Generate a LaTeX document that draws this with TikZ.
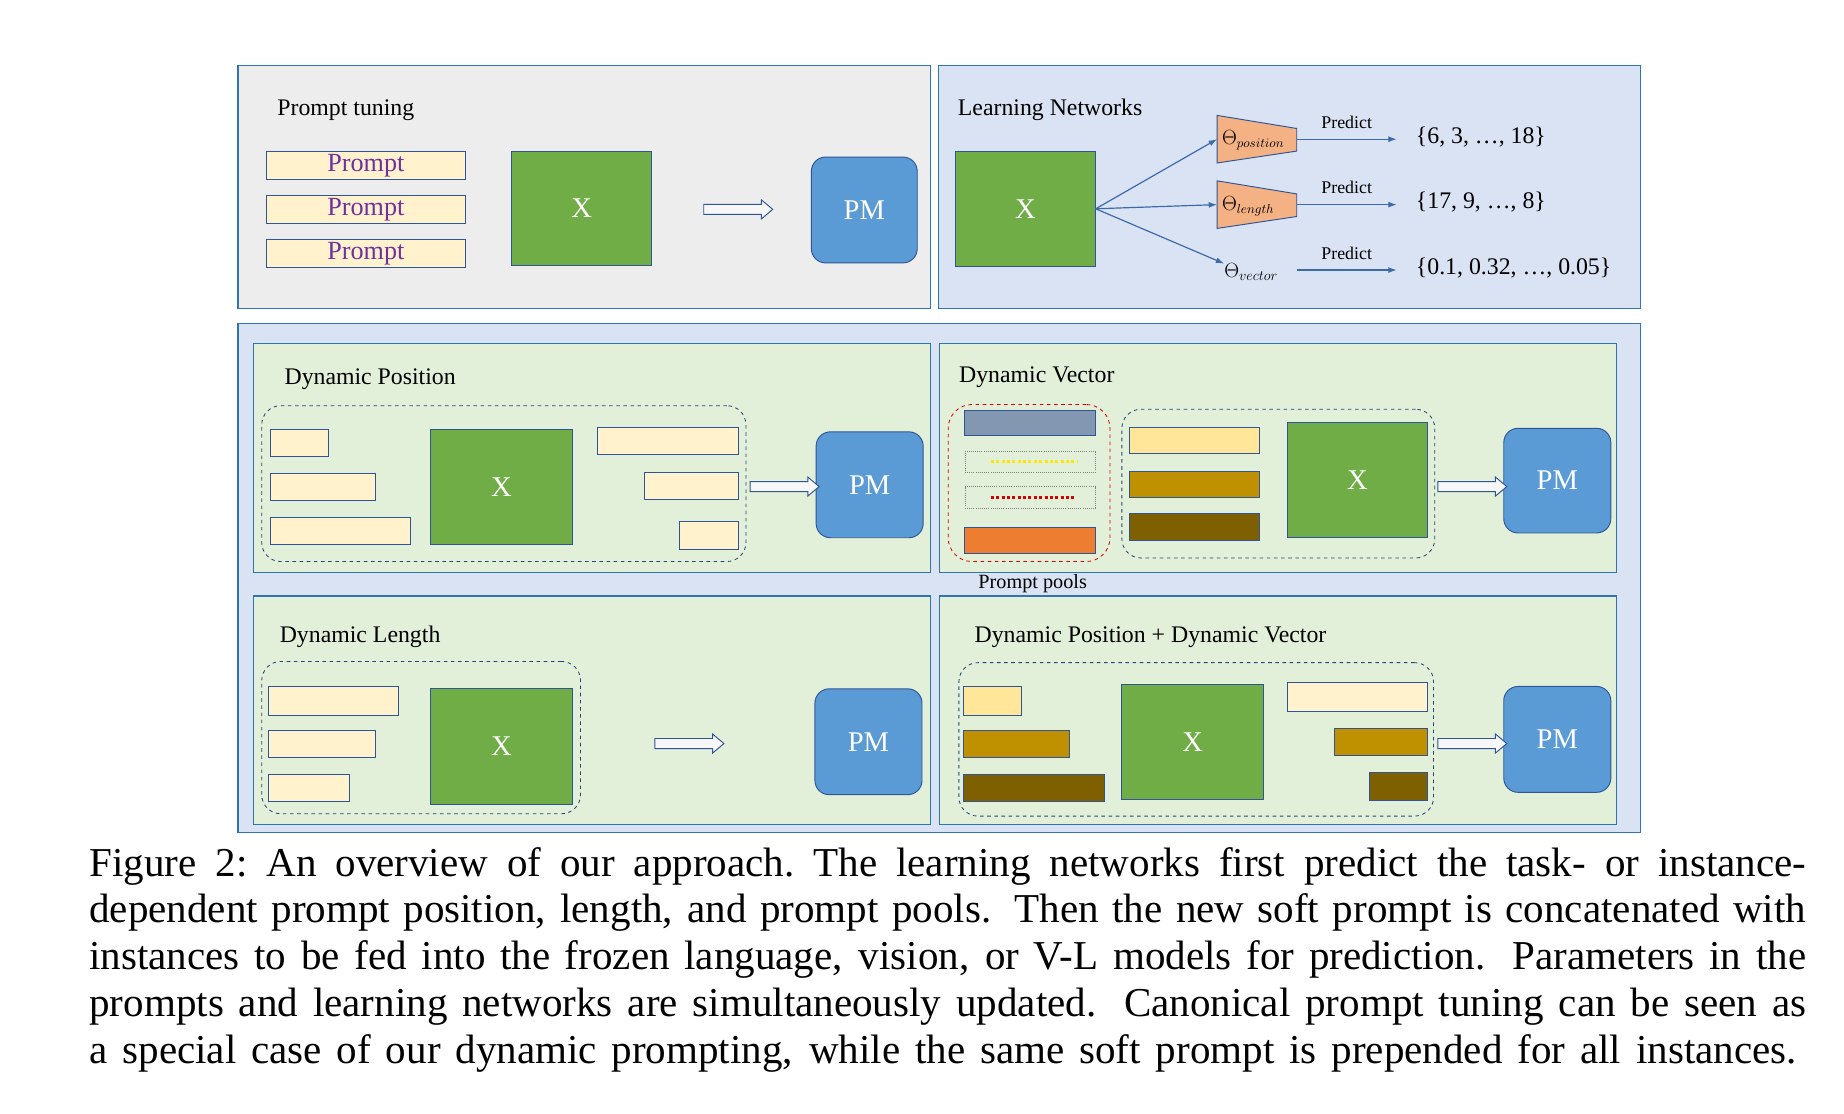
\documentclass[tikz,border=0pt]{standalone}
\usepackage{fontspec}
\setmainfont{Liberation Serif}
\usetikzlibrary{positioning,calc,arrows.meta,shapes.arrows}
\definecolor{panelblue}{HTML}{DAE3F3}
\definecolor{panelgray}{HTML}{EDEDED}
\definecolor{panelgreen}{HTML}{E2F0D9}
\definecolor{edgeblue}{HTML}{2E75B6}
\definecolor{boxedge}{HTML}{2F5597}
\definecolor{cream}{HTML}{FFF2CC}
\definecolor{gold}{HTML}{FFE699}
\definecolor{mustard}{HTML}{BF9000}
\definecolor{olive}{HTML}{7F6000}
\definecolor{xgreen}{HTML}{70AD47}
\definecolor{pmblue}{HTML}{5B9BD5}
\definecolor{slate}{HTML}{8497B0}
\definecolor{orange}{HTML}{ED7D31}
\definecolor{peach}{HTML}{F4B183}
\definecolor{purp}{HTML}{7030A0}
\newcommand{\fs}[1]{\fontsize{#1}{#1}\selectfont}
% box from corner to corner
\newcommand{\bx}[7]{\node[#2, minimum width={(#5-#3)*1pt}, minimum height={(#6-#4)*1pt}] (#1) at ({(#3+#5)/2},{(#4+#6)/2}) {#7};}
% one justified caption line
\newcommand{\capline}[1]{\makebox[1443pt][s]{#1}}
\tikzset{
  panel/.style={draw=edgeblue, line width=1pt, inner sep=0pt, outer sep=0pt},
  sub/.style={panel, fill=panelgreen},
  pbox/.style={draw=boxedge, line width=.8pt, inner sep=0pt, outer sep=0pt},
  xbox/.style={pbox, fill=xgreen, text=white, font=\fs{24}},
  pm/.style={pbox, fill=pmblue, text=white, rounded corners=12pt, font=\fs{24}},
  cont/.style={draw=boxedge!80!black, dashed, line width=.7pt, rounded corners=16pt, inner sep=0pt},
  title/.style={anchor=west, font=\fs{20}, inner sep=0pt},
  hollow/.style={single arrow, draw=boxedge, line width=.8pt, fill=white!94!gray, minimum height=#1,
    single arrow head extend=3pt, single arrow tip angle=80, inner sep=0pt, minimum width=16pt, text height=6pt},
  link/.style={draw=boxedge!70!pmblue, line width=1pt, -{Latex[length=7pt,width=5pt]}},
  trap/.style={draw=boxedge, fill=peach, line width=.8pt},
}
\begin{document}
\begin{tikzpicture}[x=1pt,y=-1pt]
\useasboundingbox (0,0) rectangle (1550,936);
\fill[white] (0,0) rectangle (1550,936);
% panels
\bx{pt}{panel, fill=panelgray}{200}{55}{782}{259}{}
\bx{ln}{panel, fill=panelblue}{789}{55}{1379}{259}{}
\bx{dyn}{panel, fill=panelblue}{200}{272}{1379}{700}{}
\bx{dp}{sub}{213}{289}{782}{481}{}
\bx{dv}{sub}{790}{289}{1359}{481}{}
\bx{dl}{sub}{213}{501}{782}{693}{}
\bx{dpv}{sub}{790}{501}{1359}{693}{}

% prompt tuning
\node[title] at (233,93) {Prompt tuning};
\foreach \i/\y in {1/127,2/164,3/201}
  \bx{pr\i}{pbox, fill=cream, text=purp, font=\fs{22}}{224}{\y}{391}{\y+24}{Prompt};
\bx{ptx}{xbox}{430}{127}{548}{223}{X}
\bx{ptpm}{pm}{682}{132}{771}{221}{PM}
\node[hollow=58pt] (pta) at (618,176) {};

% learning networks
\node[title] at (805,92) {Learning Networks};
\bx{lnx}{xbox}{803}{127}{921}{224}{X}
\draw[trap] (1023,97) -- (1090,108) -- (1090,127) -- (1023,137) -- cycle;
\node[anchor=west, inner sep=0pt, font=\fs{16}] (tpos) at (1027,118) {$\Theta_{position}$};
\draw[trap] (1023,152) -- (1090,163) -- (1090,182) -- (1023,192) -- cycle;
\node[anchor=west, inner sep=0pt, font=\fs{16}] (tlen) at (1027,173) {$\Theta_{length}$};
\node[anchor=west, inner sep=0pt, font=\fs{17}] (tvec) at (1029,229) {$\Theta_{vector}$};
\coordinate (in1) at (1023,117);
\coordinate (in2) at (1023,172);
\coordinate (out1) at (1090,117);
\coordinate (out2) at (1090,172);
\coordinate (out3) at (1090,227);
\draw[link] (lnx.east) -- (in1);
\draw[link] (lnx.east) -- (in2);
\draw[link] (lnx.east) -- (tvec.north west);
\foreach \i/\y/\s in {1/117/{\{6, 3, \ldots, 18\}},2/172/{\{17, 9, \ldots, 8\}},3/227/{\{0.1, 0.32, \ldots, 0.05\}}}{
  \node[anchor=west, inner sep=0pt, font=\fs{20}] (set\i) at (1190,\y-2) {\s};
  \draw[link] (out\i) -- ($(set\i.west |- out\i)+(-16,0)$) node[midway, above=5pt, font=\fs{15}, text=black] {Predict};
}

% dynamic position
\node[title] at (239,319) {Dynamic Position};
\bx{dpc}{cont}{220}{341}{627}{472}{}
\bx{dp1}{pbox, fill=cream}{227}{361}{276}{384}{}
\bx{dp2}{pbox, fill=cream}{227}{398}{316}{421}{}
\bx{dp3}{pbox, fill=cream}{227}{435}{345}{458}{}
\bx{dpx}{xbox}{362}{361}{481}{458}{X}
\bx{dp4}{pbox, fill=cream}{502}{359}{621}{382}{}
\bx{dp5}{pbox, fill=cream}{542}{397}{621}{420}{}
\bx{dp6}{pbox, fill=cream}{571}{438}{621}{462}{}
\bx{dppm}{pm}{686}{363}{776}{452}{PM}
\node[hollow=58pt] (dpa) at (657,409) {};

% dynamic vector
\node[title] at (806,317) {Dynamic Vector};
\bx{pool}{cont, draw=red!85!black, rounded corners=20pt}{797}{340}{933}{472}{}
\bx{dv1}{pbox, fill=slate}{811}{345}{921}{366}{}
\bx{dv2}{pbox, densely dotted, draw=gray, line width=.5pt}{811}{379}{921}{397}{}
\bx{dv3}{pbox, densely dotted, draw=gray, line width=.5pt}{811}{409}{921}{427}{}
\bx{dv4}{pbox, fill=orange}{811}{443}{921}{465}{}
\draw[yellow!90!orange, line width=2.5pt, dotted] ($(dv2.west)+(22,0)$) -- ($(dv2.east)+(-15,0)$);
\draw[red!85!black, line width=2.5pt, dotted] ($(dv3.west)+(22,0)$) -- ($(dv3.east)+(-18,0)$);
\node[font=\fs{17}] (pools) at (868,491) {Prompt pools};
\bx{dvc}{cont}{943}{344}{1206}{469}{}
\bx{dv5}{pbox, fill=gold}{949}{359}{1059}{381}{}
\bx{dv6}{pbox, fill=mustard}{949}{396}{1059}{418}{}
\bx{dv7}{pbox, fill=olive}{949}{432}{1059}{454}{}
\bx{dvx}{xbox}{1082}{355}{1200}{452}{X}
\bx{dvpm}{pm}{1264}{360}{1354}{448}{PM}
\node[hollow=58pt] (dva) at (1235,409) {};

% dynamic length
\node[title] at (235,535) {Dynamic Length};
\bx{dlc}{cont}{220}{556}{488}{684}{}
\bx{dl1}{pbox, fill=cream}{226}{577}{335}{601}{}
\bx{dl2}{pbox, fill=cream}{226}{614}{316}{637}{}
\bx{dl3}{pbox, fill=cream}{226}{651}{294}{674}{}
\bx{dlx}{xbox}{362}{579}{481}{676}{X}
\bx{dlpm}{pm}{685}{579}{775}{668}{PM}
\node[hollow=58pt] (dla) at (577,625) {};

% dynamic position + dynamic vector
\node[title] at (819,536) {Dynamic Position + Dynamic Vector};
\bx{pvc}{cont}{806}{557}{1205}{686}{}
\bx{pv1}{pbox, fill=gold}{810}{577}{859}{601}{}
\bx{pv2}{pbox, fill=mustard}{810}{614}{899}{637}{}
\bx{pv3}{pbox, fill=olive}{810}{651}{928}{674}{}
\bx{pvx}{xbox}{943}{575}{1062}{672}{X}
\bx{pv4}{pbox, fill=cream}{1082}{574}{1200}{598}{}
\bx{pv5}{pbox, fill=mustard}{1122}{612}{1200}{635}{}
\bx{pv6}{pbox, fill=olive}{1151}{649}{1200}{673}{}
\bx{pvpm}{pm}{1264}{577}{1354}{666}{PM}
\node[hollow=58pt] (pva) at (1235,625) {};

% caption
\node[anchor=north west, inner sep=0pt, align=left, font=\fontsize{34.5}{39.3}\selectfont] (cap) at (75,712) {%
\capline{Figure 2:\ An overview of our approach.\ The learning networks first predict the task- or instance-}\\
\capline{dependent prompt position, length, and prompt pools. Then the new soft prompt is concatenated with}\\
\capline{instances to be fed into the frozen language, vision, or V-L models for prediction. Parameters in the}\\
\capline{prompts and learning networks are simultaneously updated. Canonical prompt tuning can be seen as}\\
\makebox[1435pt][s]{a special case of our dynamic prompting, while the same soft prompt is prepended for all instances.}};
\end{tikzpicture}
\end{document}
